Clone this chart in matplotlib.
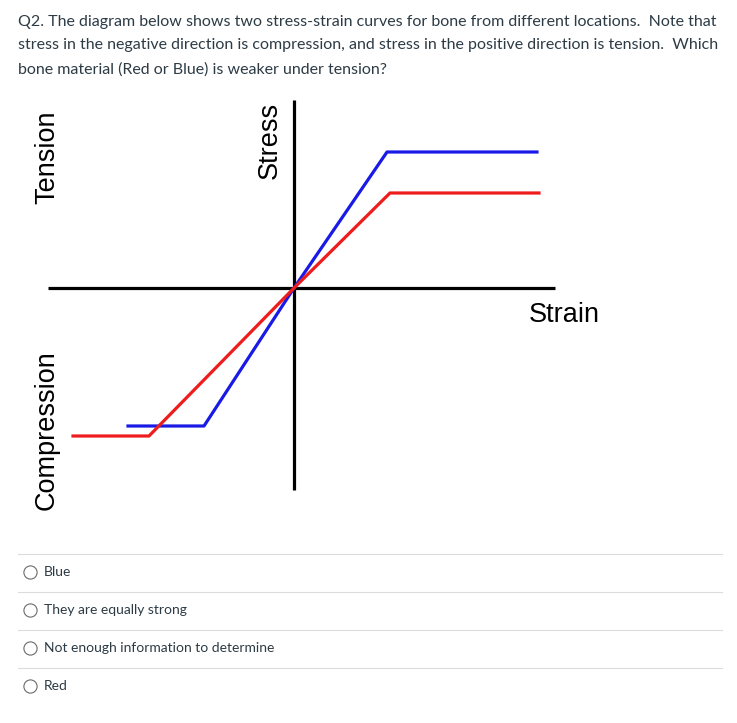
import matplotlib.pyplot as plt

# Stress-strain curves (arbitrary units, origin at the crossing of the axes)
blue_strain = [-1.66, -0.90, 0.0, 0.93, 2.43]
blue_stress = [-1.38, -1.38, 0.0, 1.36, 1.36]
red_strain = [-2.21, -1.45, 0.0, 0.96, 2.45]
red_stress = [-1.48, -1.48, 0.0, 0.95, 0.95]

# extent of the drawn axes
strain_axis = [-2.46, 2.61]
stress_axis = [-2.02, 1.88]

question = ("Q2. The diagram below shows two stress-strain curves for bone from different locations.  Note that\n"
            "stress in the negative direction is compression, and stress in the positive direction is tension.  Which\n"
            "bone material (Red or Blue) is weaker under tension?")
choices = ["Blue", "They are equally strong", "Not enough information to determine", "Red"]

W, H = 737, 723
fig = plt.figure(figsize=(W / 100, H / 100), dpi=100)
fig.patch.set_facecolor('white')

# axes spanning the whole figure; 1 data unit = 100 px, origin at (294, 288)
ax = fig.add_axes([0, 0, 1, 1])
ax.set_xlim(-294 / 100, (W - 294) / 100)
ax.set_ylim(-(H - 288) / 100, 288 / 100)
ax.axis('off')

ax.plot(strain_axis, [0, 0], color='black', lw=2.3, solid_capstyle='butt')
ax.plot([0, 0], stress_axis, color='black', lw=2.3, solid_capstyle='butt')
ax.plot(blue_strain, blue_stress, color='#1a1ae6', lw=2.3)
ax.plot(red_strain, red_stress, color='#ee1c1c', lw=2.3)

lab_font = ['Liberation Sans', 'DejaVu Sans']
ax.text(-2.47, 1.31, 'Tension', rotation=90, fontsize=19.5, family=lab_font,
        ha='center', va='center')
ax.text(-2.47, -1.42, 'Compression', rotation=90, fontsize=19.5, family=lab_font,
        ha='center', va='center')
ax.text(-0.24, 1.48, 'Stress', rotation=90, fontsize=19.5, family=lab_font,
        ha='center', va='center')
ax.text(2.70, -0.27, 'Strain', fontsize=19.5, family=lab_font,
        ha='center', va='center')

# question text
txt_color = '#2d3b45'
fig.text(18 / W, 1 - 15 / H, question, fontsize=11.55, family=['Lato', 'DejaVu Sans'],
         color=txt_color, ha='left', va='top', linespacing=1.85)

# answer choices
for i, c in enumerate(choices):
    y_line = 554 + 38 * i
    ax.plot([(18 - 294) / 100, (722 - 294) / 100], [(288 - y_line) / 100] * 2,
            color='#dcdcdc', lw=0.8)
    y_txt = (288 - (y_line + 18)) / 100
    ax.plot([(30 - 294) / 100], [y_txt], marker='o', markersize=9.5,
            markerfacecolor='white', markeredgecolor='#6b6b6b', markeredgewidth=0.8)
    ax.text((44 - 294) / 100, y_txt, c, fontsize=10, family=['Lato', 'DejaVu Sans'],
            color=txt_color, ha='left', va='center')

fig.savefig('out.png', dpi=100)
